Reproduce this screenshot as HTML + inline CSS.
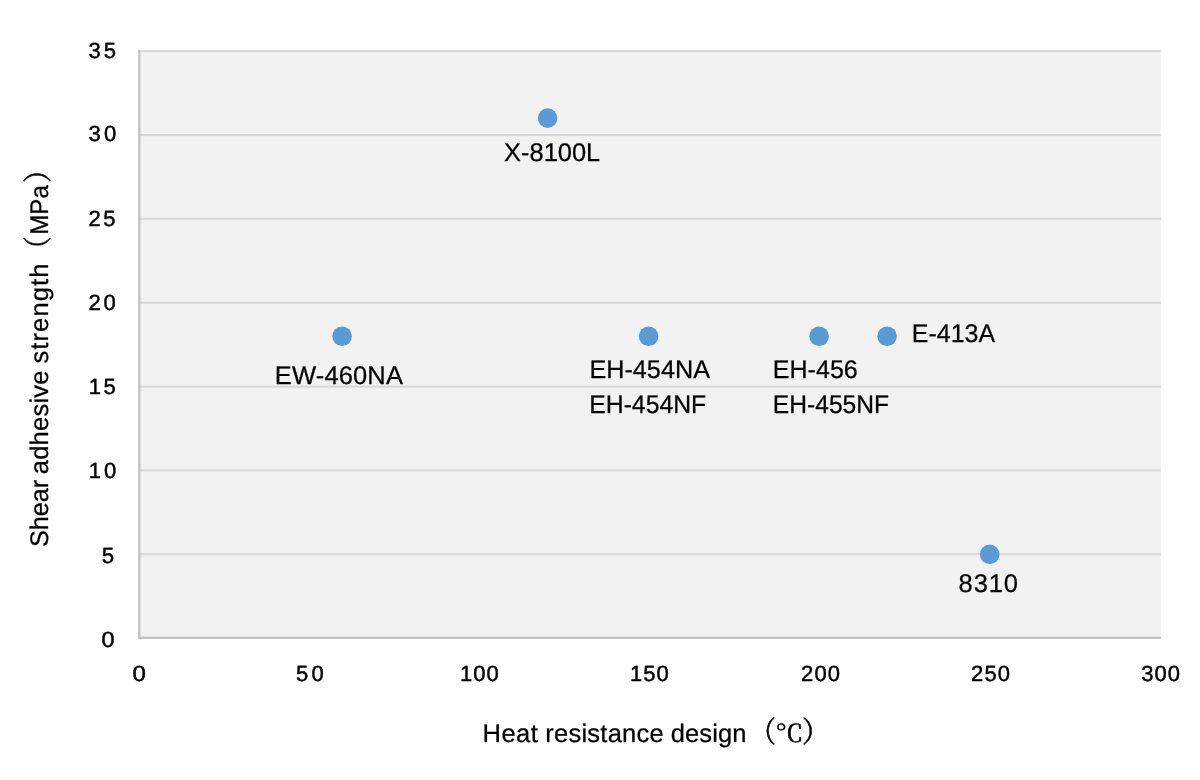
<!DOCTYPE html>
<html lang="en">
<head>
<meta charset="utf-8">
<title>Shear adhesive strength vs heat resistance design</title>
<style>
html,body{margin:0;padding:0;background:#fff;}
body{width:1200px;height:780px;overflow:hidden;}
svg{display:block;will-change:transform;}
text{font-family:"Liberation Sans",sans-serif;fill:#000;stroke:#000;stroke-linejoin:round;text-rendering:geometricPrecision;}
.cjk{font-family:"Liberation Serif","Noto Serif CJK JP",serif;}
</style>
</head>
<body>
<svg width="1200" height="780" viewBox="0 0 1200 780">
<rect x="0" y="0" width="1200" height="780" fill="#ffffff"/>
<rect x="138.3" y="50.1" width="1022.6" height="588.7" fill="#f2f2f2"/>
<rect x="138.3" y="50.1" width="1022.6" height="2.1" fill="#d9d9d9"/>
<rect x="138.3" y="134.0" width="1022.6" height="2.1" fill="#d9d9d9"/>
<rect x="138.3" y="217.9" width="1022.6" height="2.1" fill="#d9d9d9"/>
<rect x="138.3" y="301.7" width="1022.6" height="2.1" fill="#d9d9d9"/>
<rect x="138.3" y="385.6" width="1022.6" height="2.1" fill="#d9d9d9"/>
<rect x="138.3" y="469.3" width="1022.6" height="2.1" fill="#d9d9d9"/>
<rect x="138.3" y="553.1" width="1022.6" height="2.1" fill="#d9d9d9"/>
<rect x="138.3" y="636.8" width="1022.6" height="2.1" fill="#bfbfbf"/>
<rect x="138.3" y="50.1" width="2.1" height="588.8" fill="#bfbfbf"/>
<circle cx="342.1" cy="336.3" r="9.8" fill="#5b9bd5"/>
<circle cx="547.6" cy="118.1" r="9.8" fill="#5b9bd5"/>
<circle cx="648.6" cy="336.3" r="9.8" fill="#5b9bd5"/>
<circle cx="819.1" cy="336.3" r="9.8" fill="#5b9bd5"/>
<circle cx="887.1" cy="336.3" r="9.8" fill="#5b9bd5"/>
<circle cx="989.7" cy="554.4" r="9.8" fill="#5b9bd5"/>
<text id="y35" x="88.39" y="58.00" font-size="22.00" stroke-width="0.45" textLength="27.61" lengthAdjust="spacing">35</text>
<text id="y30" x="88.39" y="141.00" font-size="22.00" stroke-width="0.45" textLength="27.83" lengthAdjust="spacing">30</text>
<text id="y25" x="88.41" y="226.00" font-size="22.00" stroke-width="0.45" textLength="27.01" lengthAdjust="spacing">25</text>
<text id="y20" x="88.41" y="310.00" font-size="22.00" stroke-width="0.45" textLength="27.46" lengthAdjust="spacing">20</text>
<text id="y15" x="88.75" y="394.00" font-size="22.00" stroke-width="0.45" textLength="26.97" lengthAdjust="spacing">15</text>
<text id="y10" x="88.75" y="478.00" font-size="22.00" stroke-width="0.45" textLength="27.39" lengthAdjust="spacing">10</text>
<text id="y5" x="101.74" y="563.00" font-size="22.00" stroke-width="0.45" textLength="12.42" lengthAdjust="spacingAndGlyphs">5</text>
<text id="y0" x="101.54" y="647.00" font-size="22.00" stroke-width="0.45" textLength="13.01" lengthAdjust="spacingAndGlyphs">0</text>
<text id="x0" x="132.52" y="681.00" font-size="22.00" stroke-width="0.45" textLength="13.43" lengthAdjust="spacingAndGlyphs">0</text>
<text id="x50" x="295.99" y="681.00" font-size="22.00" stroke-width="0.45" textLength="27.74" lengthAdjust="spacing">50</text>
<text id="x100" x="460.05" y="681.00" font-size="22.00" stroke-width="0.45" textLength="38.68" lengthAdjust="spacing">100</text>
<text id="x150" x="630.11" y="681.00" font-size="22.00" stroke-width="0.45" textLength="38.53" lengthAdjust="spacing">150</text>
<text id="x200" x="801.08" y="681.00" font-size="22.00" stroke-width="0.45" textLength="38.91" lengthAdjust="spacing">200</text>
<text id="x250" x="971.08" y="681.00" font-size="22.00" stroke-width="0.45" textLength="38.91" lengthAdjust="spacing">250</text>
<text id="x300" x="1141.37" y="681.00" font-size="22.00" stroke-width="0.45" textLength="38.53" lengthAdjust="spacing">300</text>
<text id="dX" x="504.03" y="161.00" font-size="25.50" stroke-width="0.25" textLength="96.28" lengthAdjust="spacingAndGlyphs">X-8100L</text>
<text id="dEW" x="274.84" y="384.00" font-size="25.50" stroke-width="0.25" textLength="128.09" lengthAdjust="spacing">EW-460NA</text>
<text id="dNA" x="589.40" y="378.00" font-size="25.50" stroke-width="0.25" textLength="120.58" lengthAdjust="spacingAndGlyphs">EH-454NA</text>
<text id="dNF" x="589.27" y="413.00" font-size="25.50" stroke-width="0.25" textLength="116.87" lengthAdjust="spacingAndGlyphs">EH-454NF</text>
<text id="d456" x="772.76" y="378.00" font-size="25.50" stroke-width="0.25" textLength="85.03" lengthAdjust="spacingAndGlyphs">EH-456</text>
<text id="d455" x="772.82" y="413.00" font-size="25.50" stroke-width="0.25" textLength="116.33" lengthAdjust="spacingAndGlyphs">EH-455NF</text>
<text id="dE" x="911.78" y="342.00" font-size="25.50" stroke-width="0.25" textLength="83.37" lengthAdjust="spacingAndGlyphs">E-413A</text>
<text id="d83" x="958.57" y="592.00" font-size="25.50" stroke-width="0.25" textLength="59.48" lengthAdjust="spacing">8310</text>
<text id="xt"><tspan id="xt1" x="482.48" y="742.00" font-size="25.50" stroke-width="0.25" textLength="55.39" lengthAdjust="spacing">Heat</tspan> <tspan id="xt2" x="545.19" y="742.00" font-size="25.50" stroke-width="0.25" textLength="118.52" lengthAdjust="spacing">resistance</tspan> <tspan id="xt3" x="670.65" y="742.00" font-size="25.50" stroke-width="0.25" textLength="75.77" lengthAdjust="spacing">design</tspan> <tspan id="xtl" class="cjk" x="749.74" y="742.00" font-size="29.15" stroke-width="0.45" textLength="26.32" lengthAdjust="spacingAndGlyphs">（</tspan><tspan id="xtc" class="cjk" x="775.30" y="742.00" font-size="24.13" stroke-width="0.45" textLength="28.42" lengthAdjust="spacingAndGlyphs">℃</tspan><tspan id="xtr" class="cjk" x="801.72" y="742.00" font-size="28.95" stroke-width="0.45" textLength="28.48" lengthAdjust="spacingAndGlyphs">）</tspan></text>
<text id="yt" transform="translate(48.2,0) rotate(-90)"><tspan id="yt1" x="-547.11" y="-0.17" font-size="25.50" stroke-width="0.25" textLength="67.17" lengthAdjust="spacingAndGlyphs">Shear</tspan> <tspan id="yt2" x="-474.22" y="-0.17" font-size="25.50" stroke-width="0.25" textLength="103.74" lengthAdjust="spacing">adhesive</tspan> <tspan id="yt3" x="-363.61" y="-0.17" font-size="25.50" stroke-width="0.25" textLength="100.01" lengthAdjust="spacing">strength</tspan><tspan id="ytl" class="cjk" x="-262.20" y="-0.11" font-size="28.90" stroke-width="0.45" textLength="25.98" lengthAdjust="spacingAndGlyphs">（</tspan><tspan id="ytm" x="-234.80" y="-0.17" font-size="25.50" stroke-width="0.25" textLength="49.64" lengthAdjust="spacingAndGlyphs">MPa</tspan><tspan id="ytr" class="cjk" x="-182.89" y="-0.05" font-size="28.94" stroke-width="0.45" textLength="27.33" lengthAdjust="spacingAndGlyphs">）</tspan></text>
</svg>
</body>
</html>
